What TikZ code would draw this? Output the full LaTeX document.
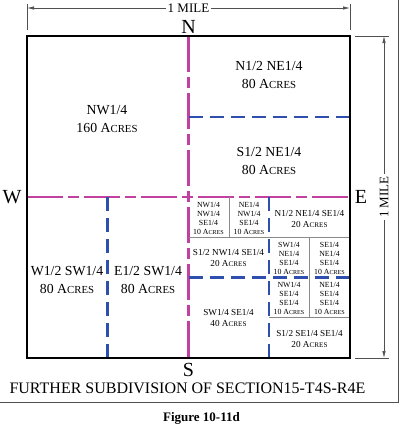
\documentclass[tikz,border=0pt]{standalone}
\usepackage{fontspec}
\setmainfont{Liberation Serif}
\usetikzlibrary{arrows.meta}
\definecolor{sec}{HTML}{C2409F}
\definecolor{sub}{HTML}{2F4FAF}
\definecolor{dimc}{HTML}{505050}
\definecolor{lotc}{HTML}{8A8A8A}
\newcommand{\acres}{A\scalebox{0.78}{CRES}}
\tikzset{
  qline/.style={draw=sec,line width=2.3pt,dash pattern=on 36pt off 5pt on 11pt off 5pt},
  hline/.style={draw=sub,line width=2.4pt,dash pattern=on 14pt off 7pt},
  lotline/.style={draw=lotc,line width=1pt},
  dimline/.style={draw=dimc,line width=0.7pt},
  dimar/.style={dimline,{Latex[length=7pt,width=3.5pt]}-{Latex[length=7pt,width=3.5pt]}},
  dimtxt/.style={fill=white,inner sep=2pt,font=\fontsize{13}{13}\selectfont},
  big/.style={font=\fontsize{13.8}{17.5}\selectfont,align=center},
  mid/.style={font=\fontsize{9.2}{10.5}\selectfont,align=center},
  sml/.style={font=\fontsize{7.8}{9}\selectfont,align=center},
  dir/.style={font=\fontsize{20}{20}\selectfont},
}

\begin{document}
\begin{tikzpicture}[x=1pt,y=-1pt]
  \useasboundingbox (0,0) rectangle (405,432);
  % outer frame
  \draw[dimline] (398,0) -- (398,402) -- (0,402);
  % dimensions
  \draw[dimline] (27,4) -- (27,30);
  \draw[dimline] (350,4) -- (350,30);
  \draw[dimar] (27,8) -- (350,8) node[midway,dimtxt] (topdim) {1 MILE};
  \draw[dimline] (355,36) -- (389,36);
  \draw[dimline] (355,358) -- (389,358);
  \draw[dimar] (384,36) -- (384,358) node[midway,dimtxt,rotate=90] (sidedim) {1 MILE};
  % quarter lines
  \draw[qline] (188.5,36) -- (188.5,358);
  \draw[qline] (27,197) -- (350,197);
  % half lines
  \draw[hline] (188.5,117) -- (350,117);
  \draw[hline] (107.5,197) -- (107.5,358);
  \draw[hline] (188.5,277.5) -- (350,277.5);
  \draw[hline] (269,197) -- (269,358);
  % small lots
  \draw[lotline] (188.5,237) -- (350,237);
  \draw[lotline] (229,197) -- (229,237);
  \draw[lotline] (309,237) -- (309,317);
  \draw[lotline] (269,317) -- (350,317);
  % section
  \draw[line width=2pt] (27,36) rectangle (350,358);
  \node[dir] (north) at (188.5,26.5) {N};
  \node[dir] (south) at (188.5,370) {S};
  \node[dir] (west) at (12,197) {W};
  \node[dir] (east) at (361,197) {E};
  % parcels
  \node[big] (nhne) at (269,75) {N1/2 NE1/4\\80 \acres};
  \node[big] (nw) at (107,119) {NW1/4\\160 \acres};
  \node[big] (shne) at (269,161) {S1/2 NE1/4\\80 \acres};
  \node[big] (whsw) at (67,280) {W1/2 SW1/4\\80 \acres};
  \node[big] (ehsw) at (148,280) {E1/2 SW1/4\\80 \acres};
  \node[sml] (nwnwse) at (208.5,218.5) {NW1/4\\NW1/4\\SE1/4\\10 \acres};
  \node[sml] (nenwse) at (249,218.5) {NE1/4\\NW1/4\\SE1/4\\10 \acres};
  \node[mid] (nhnese) at (309.5,219) {N1/2 NE1/4 SE1/4\\20 \acres};
  \node[mid] (shnwse) at (228.5,258) {S1/2 NW1/4 SE1/4\\20 \acres};
  \node[sml] (swnese) at (289,258) {SW1/4\\NE1/4\\SE1/4\\10 \acres};
  \node[sml] (senese) at (329.5,258) {SE1/4\\NE1/4\\SE1/4\\10 \acres};
  \node[mid] (swse) at (228.5,318) {SW1/4 SE1/4\\40 \acres};
  \node[sml] (nwsese) at (289,298) {NW1/4\\SE1/4\\SE1/4\\10 \acres};
  \node[sml] (nesese) at (329.5,298) {NE1/4\\SE1/4\\SE1/4\\10 \acres};
  \node[mid] (shsese) at (309.5,339) {S1/2 SE1/4 SE1/4\\20 \acres};
  % captions
  \node[anchor=base,font=\fontsize{16}{16}\selectfont] (title) at (187.5,393) {FURTHER SUBDIVISION OF SECTION15-T4S-R4E};
  \node[anchor=base,font=\bfseries\fontsize{13}{13}\selectfont] (fig) at (201.5,421) {Figure 10-11d};
\end{tikzpicture}
\end{document}
